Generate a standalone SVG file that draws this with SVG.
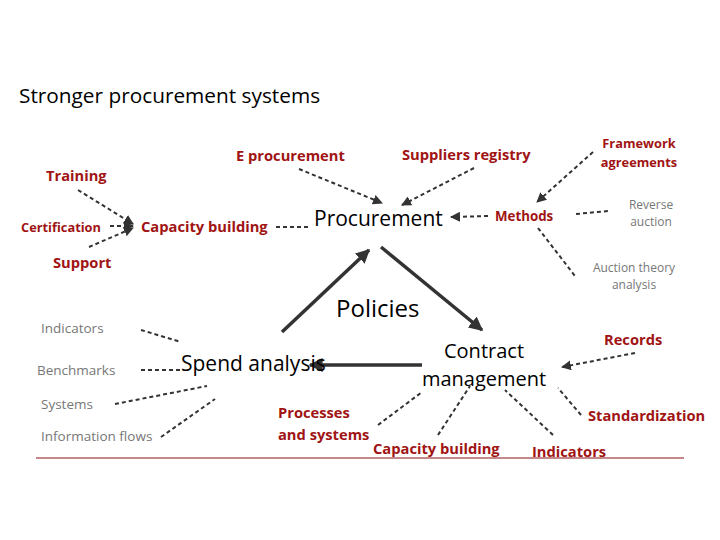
<svg xmlns="http://www.w3.org/2000/svg" width="720" height="540" viewBox="0 0 720 540">
<style>
text{font-family:"Open Sans","Noto Sans","Liberation Sans",sans-serif}
.r{fill:#a01414;font-weight:bold;font-size:14.7px}
.b{fill:#000;font-size:21px}
.g{fill:#777;font-size:13.5px}
.d{stroke:#333;stroke-width:2;stroke-dasharray:4,3;fill:none}
.t{stroke:#333;stroke-width:3.5;fill:none}
</style>
<defs>
<marker id="a" viewBox="0 0 10 10" refX="9" refY="5" markerWidth="5" markerHeight="5" orient="auto"><path d="M0,0L10,5L0,10z" fill="#333"/></marker>
<marker id="A" viewBox="0 0 10 10" refX="9" refY="5" markerWidth="4" markerHeight="4" orient="auto"><path d="M0,0L10,5L0,10z" fill="#333"/></marker>
</defs>
<rect width="720" height="540" fill="#fff"/>
<text x="19" y="103" style="font-size:20.8px;fill:#000">Stronger procurement systems</text>
<line x1="36" y1="458" x2="684" y2="458" stroke="#b06060" stroke-width="1.5"/>
<g id="connectors">
<line class="d" x1="78" y1="190" x2="133" y2="224" marker-end="url(#a)"/>
<line class="d" x1="110" y1="226" x2="133" y2="226" marker-end="url(#a)"/>
<line class="d" x1="89" y1="247" x2="133" y2="228" marker-end="url(#a)"/>
<line class="d" x1="276" y1="227" x2="308" y2="227"/>
<line class="d" x1="299" y1="169" x2="382" y2="203" marker-end="url(#a)"/>
<line class="d" x1="141" y1="330" x2="181" y2="342"/>
<line class="d" x1="141" y1="370" x2="180" y2="370"/>
<line class="d" x1="115" y1="404" x2="207" y2="386"/>
<line class="d" x1="161" y1="437" x2="215" y2="399"/>
<line class="d" x1="474" y1="168" x2="402" y2="205" marker-end="url(#a)"/>
<line class="d" x1="488" y1="216" x2="451" y2="217" marker-end="url(#a)"/>
<line class="d" x1="593" y1="152" x2="537" y2="202" marker-end="url(#a)"/>
<line class="d" x1="576" y1="214" x2="609" y2="211"/>
<line class="d" x1="538" y1="228" x2="575" y2="276"/>
<line class="d" x1="635" y1="353" x2="562" y2="367" marker-end="url(#a)"/>
<line class="d" x1="581" y1="415" x2="558" y2="388"/>
<line class="d" x1="378" y1="425" x2="422" y2="392"/>
<line class="d" x1="438" y1="435" x2="470" y2="386"/>
<line class="d" x1="553" y1="435" x2="505" y2="390"/>
<line class="t" x1="282" y1="332" x2="369" y2="250" marker-end="url(#A)"/>
<line class="t" x1="381" y1="247" x2="482" y2="330" marker-end="url(#A)"/>
<line class="t" x1="422" y1="365" x2="310" y2="365" marker-end="url(#A)"/>
</g>
<g id="procurement"><text class="b" x="314" y="226">Procurement</text></g>
<g id="policies"><text class="b" x="336" y="317" style="font-size:24px">Policies</text></g>
<g id="spend"><text class="b" x="181" y="371">Spend analysis</text></g>
<g id="contract"><text class="b" x="484" y="358" text-anchor="middle" style="font-size:20px">Contract</text><text class="b" x="484" y="386" text-anchor="middle" style="font-size:20px">management</text></g>
<g id="eproc"><text class="r" x="236" y="161">E procurement</text></g>
<g id="training"><text class="r" x="46" y="181">Training</text></g>
<g id="cert"><text class="r" x="21" y="232" style="font-size:12.8px">Certification</text></g>
<g id="cap1"><text class="r" x="141" y="232">Capacity building</text></g>
<g id="support"><text class="r" x="53" y="268">Support</text></g>
<g id="suppliers"><text class="r" x="402" y="160">Suppliers registry</text></g>
<g id="framework"><text class="r" x="639" y="148" text-anchor="middle" style="font-size:12.8px">Framework</text><text class="r" x="639" y="167" text-anchor="middle" style="font-size:12.8px">agreements</text></g>
<g id="methods"><text class="r" x="495" y="221" style="font-size:13.3px">Methods</text></g>
<g id="records"><text class="r" x="604" y="345">Records</text></g>
<g id="standard"><text class="r" x="588" y="421">Standardization</text></g>
<g id="processes"><text class="r" x="278" y="418">Processes</text><text class="r" x="278" y="440">and systems</text></g>
<g id="cap2"><text class="r" x="373" y="454">Capacity building</text></g>
<g id="ind2"><text class="r" x="532" y="457">Indicators</text></g>
<g id="ind1"><text class="g" x="41" y="333">Indicators</text></g>
<g id="bench"><text class="g" x="37" y="375">Benchmarks</text></g>
<g id="systems"><text class="g" x="41" y="409">Systems</text></g>
<g id="info"><text class="g" x="41" y="441">Information flows</text></g>
<g id="reverse"><text class="g" x="651" y="209" text-anchor="middle" style="font-size:12px">Reverse</text><text class="g" x="651" y="226" text-anchor="middle" style="font-size:12px">auction</text></g>
<g id="auction"><text class="g" x="634" y="272" text-anchor="middle" style="font-size:12px">Auction theory</text><text class="g" x="634" y="289" text-anchor="middle" style="font-size:12px">analysis</text></g>
</svg>
